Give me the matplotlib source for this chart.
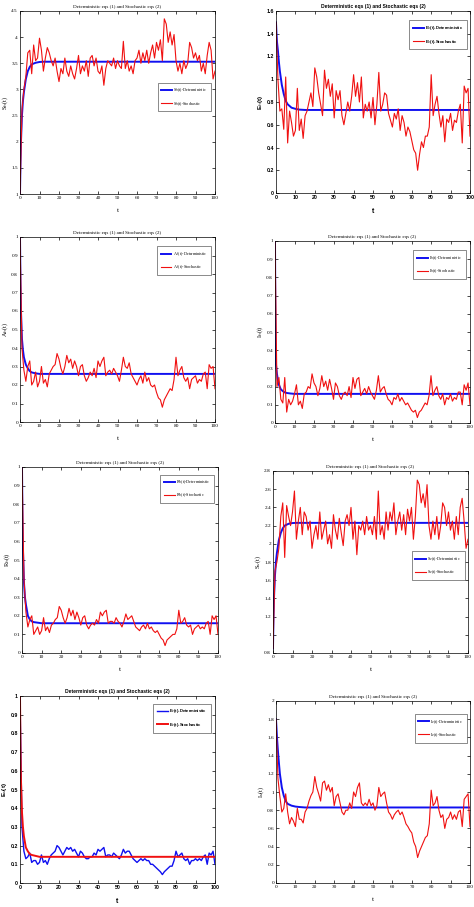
import numpy as np
import matplotlib
matplotlib.use('Agg')
import matplotlib.pyplot as plt
from matplotlib.ticker import FormatStrFormatter, MultipleLocator

# time axis of the stochastic paths (one value per unit of t)
t_stoch = list(range(0, 101))
# knots of the deterministic curves
t_det = [0, 0.25, 0.5, 1, 1.5, 2, 3, 4, 5, 6, 8, 10, 12, 15, 100]

Sh_det = [1.0, 1.6, 2.0, 2.5, 2.78, 2.95, 3.2, 3.35, 3.43, 3.48, 3.51, 3.525, 3.53, 3.53, 3.53]
Sh_sto = [1.0, 2.6, 3.0, 3.25, 3.7, 3.75, 3.3, 3.85, 3.55, 3.6, 3.98, 3.75, 3.35, 3.6, 3.8, 3.7,
          3.55, 3.45, 3.6, 3.35, 3.15, 3.4, 3.3, 3.6, 3.35, 3.25, 3.45, 3.3, 3.2, 3.4, 3.65, 3.3,
          3.45, 3.35, 3.55, 3.25, 3.6, 3.65, 3.45, 3.6, 3.35, 3.3, 3.45, 3.08, 3.4, 3.55, 3.5,
          3.45, 3.6, 3.4, 3.55, 3.45, 3.4, 3.92, 3.4, 3.55, 3.35, 3.45, 3.3, 3.55, 3.6, 3.75, 3.5,
          3.7, 3.55, 3.75, 3.5, 3.7, 3.85, 3.6, 3.9, 3.75, 3.95, 3.55, 4.35, 4.25, 3.9, 4.1, 3.85,
          4.05, 3.55, 3.35, 3.5, 3.3, 3.55, 3.4, 3.5, 3.9, 3.8, 3.6, 3.7, 3.55, 3.65, 3.35, 3.5,
          3.3, 3.65, 3.9, 3.75, 3.2, 3.35]

Eh_det = [1.5, 1.4, 1.33, 1.25, 1.15, 1.07, 0.95, 0.87, 0.81, 0.78, 0.75, 0.74, 0.733, 0.73, 0.73]
Eh_sto = [1.5, 1.0, 0.72, 0.74, 0.56, 1.02, 0.44, 0.72, 0.62, 0.5, 0.55, 0.92, 0.55, 0.65, 0.48,
          0.68, 0.72, 0.8, 0.88, 0.76, 1.1, 1.02, 0.88, 0.78, 0.68, 1.08, 0.92, 1.0, 0.85, 0.96,
          0.66, 0.9, 0.82, 0.9, 0.68, 0.6, 0.7, 0.8, 0.72, 0.85, 1.04, 0.85, 0.97, 0.8, 1.02, 0.66,
          0.78, 0.72, 0.8, 0.66, 0.84, 0.6, 0.78, 1.06, 0.72, 0.78, 0.88, 0.86, 0.7, 0.64, 0.58,
          0.7, 0.65, 0.74, 0.55, 0.68, 0.62, 0.5, 0.58, 0.54, 0.46, 0.38, 0.35, 0.2, 0.34, 0.45,
          0.4, 0.5, 0.5, 0.58, 1.04, 0.68, 0.78, 0.85, 0.7, 0.58, 0.68, 0.45, 0.65, 0.62, 0.7,
          0.55, 0.64, 0.62, 0.72, 0.78, 0.44, 0.94, 0.88, 0.92, 0.5]

Ah_det = [1.0, 0.75, 0.6, 0.45, 0.39, 0.35, 0.31, 0.29, 0.275, 0.268, 0.263, 0.26, 0.26, 0.26, 0.26]
Ah_sto = [1.0, 0.4, 0.28, 0.22, 0.3, 0.33, 0.2, 0.22, 0.27, 0.19, 0.22, 0.3, 0.21, 0.23, 0.19,
          0.26, 0.28, 0.3, 0.31, 0.37, 0.34, 0.29, 0.26, 0.3, 0.36, 0.32, 0.34, 0.29, 0.33, 0.3,
          0.25, 0.3, 0.31, 0.25, 0.22, 0.24, 0.27, 0.25, 0.29, 0.24, 0.33, 0.3, 0.33, 0.35, 0.25,
          0.27, 0.28, 0.26, 0.29, 0.27, 0.25, 0.22, 0.28, 0.35, 0.3, 0.29, 0.32, 0.26, 0.24, 0.22,
          0.2, 0.23, 0.25, 0.21, 0.27, 0.22, 0.24, 0.2, 0.19, 0.2, 0.16, 0.13, 0.12, 0.08, 0.12,
          0.14, 0.16, 0.18, 0.17, 0.23, 0.35, 0.25, 0.28, 0.3, 0.24, 0.22, 0.24, 0.18, 0.23, 0.24,
          0.25, 0.21, 0.23, 0.22, 0.26, 0.27, 0.18, 0.31, 0.29, 0.3, 0.18]

Ih_det = [1.0, 0.45, 0.32, 0.27, 0.235, 0.21, 0.185, 0.175, 0.168, 0.165, 0.162, 0.16, 0.16, 0.16, 0.16]
Ih_sto = [1.0, 0.2, 0.25, 0.13, 0.11, 0.25, 0.06, 0.13, 0.1, 0.12, 0.16, 0.21, 0.1, 0.12, 0.08,
          0.16, 0.17, 0.2, 0.19, 0.27, 0.22, 0.2, 0.15, 0.19, 0.26, 0.2, 0.23, 0.18, 0.24, 0.19,
          0.13, 0.22, 0.2, 0.15, 0.13, 0.16, 0.17, 0.15, 0.2, 0.14, 0.25, 0.19, 0.24, 0.25, 0.15,
          0.17, 0.19, 0.16, 0.2, 0.17, 0.15, 0.13, 0.18, 0.26, 0.17, 0.19, 0.2, 0.16, 0.13, 0.12,
          0.1, 0.14, 0.13, 0.16, 0.12, 0.14, 0.12, 0.1, 0.11, 0.09, 0.07, 0.06, 0.07, 0.03, 0.06,
          0.07, 0.09, 0.11, 0.1, 0.15, 0.26, 0.15, 0.18, 0.2, 0.15, 0.13, 0.16, 0.1, 0.14, 0.13,
          0.16, 0.12, 0.14, 0.13, 0.17, 0.17, 0.1, 0.21, 0.18, 0.22, 0.1]

Rh_det = [1.0, 0.72, 0.55, 0.38, 0.3, 0.26, 0.2, 0.18, 0.17, 0.166, 0.163, 0.16, 0.16, 0.16, 0.16]
Rh_sto = [1.0, 0.4, 0.22, 0.14, 0.18, 0.2, 0.1, 0.12, 0.14, 0.1, 0.12, 0.19, 0.12, 0.14, 0.11,
          0.15, 0.16, 0.18, 0.19, 0.25, 0.23, 0.19, 0.16, 0.19, 0.24, 0.2, 0.23, 0.18, 0.22, 0.19,
          0.15, 0.19, 0.2, 0.15, 0.13, 0.15, 0.16, 0.15, 0.18, 0.16, 0.22, 0.2, 0.22, 0.23, 0.16,
          0.17, 0.17, 0.16, 0.19, 0.17, 0.16, 0.14, 0.17, 0.21, 0.18, 0.19, 0.2, 0.17, 0.14, 0.13,
          0.12, 0.14, 0.15, 0.13, 0.16, 0.13, 0.14, 0.12, 0.11, 0.12, 0.1, 0.08, 0.07, 0.04, 0.07,
          0.08, 0.09, 0.1, 0.1, 0.13, 0.23, 0.16, 0.17, 0.19, 0.15, 0.14, 0.15, 0.1, 0.13, 0.14,
          0.15, 0.13, 0.14, 0.13, 0.16, 0.17, 0.1, 0.2, 0.18, 0.2, 0.1]

Sv_det = [0.85, 1.2, 1.4, 1.65, 1.8, 1.9, 2.04, 2.12, 2.17, 2.2, 2.22, 2.228, 2.23, 2.23, 2.23]
Sv_sto = [0.85, 1.7, 1.8, 1.95, 2.3, 2.45, 1.85, 2.42, 2.3, 2.2, 2.35, 2.58, 2.05, 2.25, 2.4,
          2.1, 2.35, 2.3, 2.15, 2.25, 1.95, 2.1, 2.2, 2.05, 2.35, 2.05, 2.15, 2.25, 2.0, 2.1,
          1.95, 2.32, 2.15, 2.05, 2.28, 2.12, 1.98, 2.25, 2.32, 2.2, 2.4, 2.05, 2.25, 1.88, 2.2,
          2.15, 2.25, 2.1, 2.3, 2.15, 2.2, 2.1, 2.3, 2.05, 2.58, 2.1, 2.2, 2.05, 2.35, 2.15, 2.35,
          2.25, 2.45, 2.1, 2.25, 2.35, 2.15, 2.32, 2.1, 2.38, 2.25, 2.4, 2.05, 2.3, 2.7, 2.65,
          2.45, 2.55, 2.4, 2.65, 2.2, 2.05, 2.25, 2.1, 2.3, 2.05, 2.2, 2.45, 2.4, 2.2, 2.35, 2.15,
          2.25, 2.05, 2.3, 2.1, 2.4, 2.5, 2.25, 1.95, 2.05]

Ev_det = [1.0, 0.72, 0.55, 0.38, 0.3, 0.25, 0.19, 0.17, 0.155, 0.15, 0.145, 0.14, 0.14, 0.14, 0.14]
Ev_sto = [1.0, 0.3, 0.17, 0.13, 0.14, 0.16, 0.11, 0.12, 0.12, 0.1, 0.11, 0.15, 0.11, 0.12, 0.1,
          0.13, 0.15, 0.16, 0.17, 0.2, 0.19, 0.17, 0.15, 0.17, 0.19, 0.18, 0.19, 0.17, 0.18, 0.16,
          0.14, 0.17, 0.16, 0.14, 0.13, 0.13, 0.14, 0.14, 0.16, 0.15, 0.18, 0.17, 0.18, 0.19, 0.14,
          0.15, 0.15, 0.14, 0.16, 0.15, 0.14, 0.13, 0.15, 0.18, 0.16, 0.17, 0.17, 0.15, 0.13, 0.12,
          0.11, 0.12, 0.13, 0.12, 0.13, 0.12, 0.12, 0.1, 0.1, 0.09, 0.08, 0.07, 0.06, 0.045, 0.06,
          0.07, 0.08, 0.09, 0.09, 0.12, 0.17, 0.14, 0.15, 0.16, 0.13, 0.12, 0.13, 0.1, 0.12, 0.12,
          0.13, 0.12, 0.13, 0.12, 0.14, 0.15, 0.1, 0.16, 0.15, 0.17, 0.1]

Iv_det = [1.8, 1.7, 1.6, 1.45, 1.32, 1.2, 1.05, 0.96, 0.9, 0.87, 0.85, 0.84, 0.835, 0.83, 0.83]
Iv_sto = [1.8, 1.15, 0.95, 0.78, 0.82, 0.98, 0.78, 0.65, 0.72, 0.68, 0.62, 0.82, 0.7, 0.7, 0.66,
          0.78, 0.82, 0.9, 0.96, 1.0, 1.17, 1.05, 0.98, 0.9, 1.1, 1.12, 1.02, 1.08, 1.0, 1.05,
          0.85, 0.95, 0.98, 0.88, 0.78, 0.75, 0.8, 0.8, 0.88, 0.82, 1.0, 0.95, 1.05, 1.1, 0.88,
          0.85, 0.88, 0.85, 0.92, 0.85, 0.88, 0.8, 0.85, 1.05, 0.95, 0.98, 1.0, 0.88, 0.78, 0.75,
          0.7, 0.75, 0.78, 0.8, 0.75, 0.78, 0.72, 0.65, 0.62, 0.58, 0.55, 0.45, 0.4, 0.28, 0.35,
          0.4, 0.45, 0.5, 0.52, 0.65, 1.02, 0.85, 0.88, 0.95, 0.8, 0.72, 0.75, 0.6, 0.7, 0.72,
          0.78, 0.7, 0.75, 0.7, 0.78, 0.8, 0.62, 0.92, 0.95, 0.98, 0.62]

W, H = 474, 907
fig = plt.figure(figsize=(W / 100, H / 100), dpi=100)

SERIF = ['Liberation Serif', 'DejaVu Serif']
SANS = ['Liberation Sans Narrow', 'Liberation Sans', 'DejaVu Sans']
TITLE = 'Deterministic eqs (1) and Stochastic eqs (2)'

# (pixel box, name, sub, det, sto, ylim, ystep, legend loc, legend anchor, font, swap colours)
panels = [
    ((20, 11, 215, 194), 'S', 'h', Sh_det, Sh_sto, (1, 4.5), 0.5, 'center right', (0.99, 0.53), SERIF, False),
    ((276, 11, 470, 193), 'E', 'h', Eh_det, Eh_sto, (0, 1.6), 0.2, 'upper right', (0.995, 0.96), SANS, False),
    ((20, 237, 215, 422), 'A', 'h', Ah_det, Ah_sto, (0, 1), 0.1, 'upper right', (0.99, 0.96), SERIF, False),
    ((275, 241, 470, 423), 'I', 'h', Ih_det, Ih_sto, (0, 1), 0.1, 'upper right', (0.99, 0.96), SERIF, False),
    ((22, 467, 218, 653), 'R', 'h', Rh_det, Rh_sto, (0, 1), 0.1, 'upper right', (0.99, 0.97), SERIF, False),
    ((273, 471, 468, 653), 'S', 'v', Sv_det, Sv_sto, (0.8, 2.8), 0.2, 'center right', (0.995, 0.48), SERIF, False),
    ((20, 696, 215, 883), 'E', 'v', Ev_det, Ev_sto, (0, 1), 0.1, 'upper right', (0.99, 0.97), SANS, True),
    ((276, 701, 470, 883), 'I', 'v', Iv_det, Iv_sto, (0, 2), 0.2, 'upper right', (0.995, 0.94), SERIF, False),
]

for box, name, sub, det, sto, ylim, ystep, loc, anchor, font, swap in panels:
    x0, y0, x1, y1 = box
    ax = fig.add_axes([x0 / W, 1 - y1 / H, (x1 - x0) / W, (y1 - y0) / H])
    bold = 'bold' if font is SANS else 'normal'
    lab = name + '$_{' + sub + '}$(t)'
    if swap:
        # in this panel the noisy path is blue and the smooth one red
        ax.plot(t_stoch, sto, color='#1010f0', lw=1.0, label=lab + '-Deterministic')
        ax.plot(t_det, det, color='#f01010', lw=1.4, label=lab + '-Stochastic')
    else:
        ax.plot(t_det, det, color='#1010f0', lw=1.4, label=lab + '-Deterministic')
        ax.plot(t_stoch, sto, color='#f01010', lw=0.8, label=lab + '-Stochastic')
    ax.set_xlim(0, 100)
    ax.set_ylim(*ylim)
    ax.xaxis.set_major_locator(MultipleLocator(10))
    ax.yaxis.set_major_locator(MultipleLocator(ystep))
    ax.yaxis.set_major_formatter(FormatStrFormatter('%g'))
    ax.tick_params(direction='in', top=True, right=True, length=2, width=0.5,
                   labelsize=3.8, pad=1.5)
    for tl in ax.get_xticklabels() + ax.get_yticklabels():
        tl.set_fontfamily(font)
        tl.set_fontweight(bold)
    for s in ax.spines.values():
        s.set_linewidth(0.5)
    ax.set_title(TITLE, fontsize=3.6, family=font, fontweight=bold, pad=2.5)
    ax.set_xlabel('t', fontsize=5, family=font, fontweight=bold, labelpad=6)
    ax.set_ylabel(lab, fontsize=4.5, family=font, fontweight=bold, labelpad=1)
    leg = ax.legend(loc=loc, bbox_to_anchor=anchor, handlelength=2.6, borderpad=0.9,
                    labelspacing=1.3, handletextpad=0.3, fancybox=False, edgecolor='black',
                    prop={'family': font, 'size': 3.0, 'weight': bold})
    leg.get_frame().set_linewidth(0.4)

fig.savefig('out.png', dpi=100)
